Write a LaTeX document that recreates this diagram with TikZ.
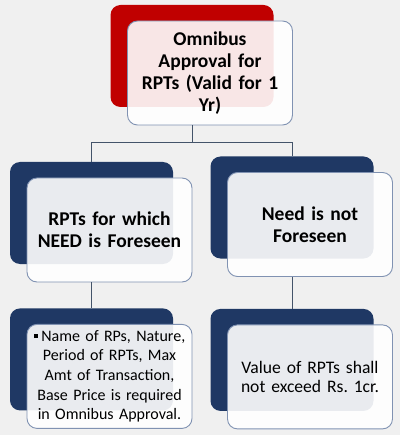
\documentclass[tikz,border=0pt]{standalone}
\usepackage{fontspec}
\setmainfont{Carlito}
\frenchspacing
\usetikzlibrary{positioning}
\definecolor{navy}{RGB}{31,56,100}
\definecolor{darkred}{RGB}{192,0,0}
\definecolor{rim}{RGB}{128,146,178}
\definecolor{wire}{RGB}{68,84,106}
\definecolor{canvas}{RGB}{240,240,240}
\tikzset{
    %Define standard box styles
    backbox/.style={
      rectangle,
      rounded corners=10pt,
      fill=navy,
      inner sep=0pt,
      minimum width=163pt,
      minimum height=102pt},
    card/.style={
      rectangle,
      rounded corners=10pt,
      draw=rim, line width=0.9pt,
      fill=white, fill opacity=0.9, text opacity=1,
      inner sep=0pt,
      minimum width=165pt,
      minimum height=104pt,
      text width=158pt,
      align=center,
      xshift=18pt, yshift=-17pt},
    link/.style={
      draw=wire, line width=0.9pt},
    headline/.style={
      font=\bfseries\fontsize{19.5}{22}\selectfont},
    smallline/.style={
      font=\fontsize{16}{19.7}\selectfont},
    valueline/.style={
      font=\fontsize{17.6}{18.5}\selectfont},
}

\begin{document}
\begin{tikzpicture}[x=1pt, y=-1pt]
    \fill[canvas] (0,0) rectangle (400,435);
    \node (omniback) [backbox, fill=darkred] at (192,56) {};
    \node (omni) [card, headline] at (omniback)
          {Omnibus\\Approval for\\RPTs (Valid for 1\\Yr)};
    \node (needback) [backbox] at (91.5,213) {};
    \node (need) [card, headline] at (needback)
          {RPTs for which\\NEED is Foreseen};
    \node (unseenback) [backbox] at (292,207.5) {};
    \node (unseen) [card, headline] at (unseenback)
          {Need is not\\Foreseen};
    \node (detailback) [backbox] [below=44pt of needback] {};
    \node (detail) [card, smallline] at (detailback)
          {\rule[3pt]{4.5pt}{4.5pt}\hspace{3pt}Name of RPs, Nature,\\Period of RPTs, Max\\Amt of Transaction,\\Base Price is required\\in Omnibus Approval.};
    \node (limitback) [backbox] [below=50pt of unseenback] {};
    \node (limit) [card, valueline] at (limitback)
          {Value of RPTs shall\\not exceed Rs. 1cr.};
    \draw [link] (omniback.south |- omni.south) -- ++(0,17) -| (needback.north);
    \draw [link] (omniback.south |- omni.south) -- ++(0,17) -| (unseenback.north);
    \draw [link] (needback.south |- need.south) -- (detailback.north);
    \draw [link] (unseenback.south |- unseen.south) -- (limitback.north);
\end{tikzpicture}
\end{document}
